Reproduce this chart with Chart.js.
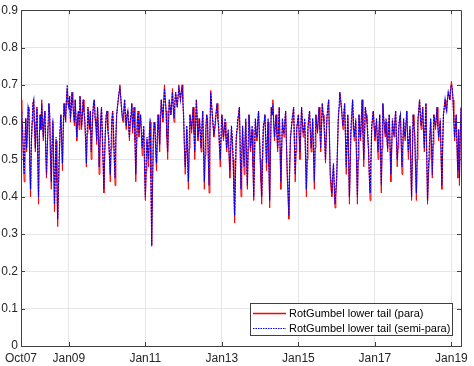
<!DOCTYPE html>
<html>
<head>
<meta charset="utf-8">
<script src="https://cdn.jsdelivr.net/npm/chart.js@4.4.1/dist/chart.umd.min.js"></script>
<style>
	html, body { margin: 0; padding: 0; background: #ffffff; }
	#wrap { width: 474px; height: 366px; }
</style>
</head>
<body>
<div id="wrap"><canvas id="tailChart" width="474" height="366"></canvas></div>
<script>
// weekly-ish observations, x is months after Oct 2007
var monthStep = 0.25;

var tickMonths = [0, 15, 39, 63, 87, 111, 135];
var tickLabels = ['Oct07', 'Jan09', 'Jan11', 'Jan13', 'Jan15', 'Jan17', 'Jan19'];

var seriesNames = ['RotGumbel lower tail (para)', 'RotGumbel lower tail (semi-para)'];

var paraTail = [
	0.66, 0.62, 0.58, 0.50, 0.44, 0.55, 0.61, 0.52, 0.57, 0.64, 0.63, 0.48, 0.40, 0.54, 0.60, 0.65, 0.66, 0.58, 0.52, 0.60,
	0.64, 0.50, 0.38, 0.56, 0.62, 0.58, 0.66, 0.60, 0.55, 0.61, 0.63, 0.52, 0.45, 0.53, 0.59, 0.65, 0.62, 0.50, 0.42, 0.54,
	0.60, 0.48, 0.36, 0.47, 0.55, 0.44, 0.32, 0.42, 0.50, 0.58, 0.62, 0.54, 0.47, 0.58, 0.65, 0.62, 0.60, 0.66, 0.69, 0.65,
	0.64, 0.67, 0.60, 0.64, 0.68, 0.65, 0.62, 0.59, 0.66, 0.60, 0.55, 0.61, 0.63, 0.58, 0.67, 0.63, 0.58, 0.62, 0.66, 0.63,
	0.60, 0.55, 0.48, 0.57, 0.64, 0.60, 0.58, 0.63, 0.50, 0.56, 0.62, 0.65, 0.66, 0.61, 0.59, 0.54, 0.64, 0.58, 0.46, 0.53,
	0.60, 0.64, 0.56, 0.49, 0.41, 0.51, 0.58, 0.62, 0.63, 0.58, 0.55, 0.50, 0.44, 0.53, 0.60, 0.63, 0.57, 0.50, 0.43, 0.55,
	0.62, 0.64, 0.66, 0.68, 0.70, 0.67, 0.64, 0.61, 0.60, 0.63, 0.66, 0.61, 0.58, 0.62, 0.63, 0.59, 0.55, 0.60, 0.62, 0.65,
	0.57, 0.61, 0.64, 0.55, 0.44, 0.53, 0.60, 0.63, 0.56, 0.59, 0.62, 0.57, 0.51, 0.55, 0.58, 0.48, 0.39, 0.47, 0.55, 0.52,
	0.48, 0.56, 0.60, 0.45, 0.267, 0.42, 0.55, 0.60, 0.58, 0.52, 0.47, 0.55, 0.62, 0.58, 0.52, 0.60, 0.66, 0.63, 0.60, 0.65,
	0.70, 0.66, 0.63, 0.56, 0.50, 0.59, 0.66, 0.64, 0.62, 0.65, 0.69, 0.64, 0.60, 0.65, 0.68, 0.66, 0.64, 0.67, 0.70, 0.68,
	0.66, 0.68, 0.70, 0.66, 0.61, 0.53, 0.46, 0.52, 0.58, 0.50, 0.42, 0.53, 0.62, 0.60, 0.57, 0.61, 0.64, 0.57, 0.50, 0.59,
	0.66, 0.61, 0.55, 0.58, 0.60, 0.56, 0.52, 0.58, 0.63, 0.53, 0.42, 0.51, 0.58, 0.62, 0.60, 0.50, 0.41, 0.56, 0.685, 0.65,
	0.62, 0.59, 0.56, 0.58, 0.60, 0.63, 0.65, 0.61, 0.58, 0.53, 0.48, 0.56, 0.62, 0.59, 0.55, 0.58, 0.60, 0.56, 0.52, 0.55,
	0.57, 0.51, 0.45, 0.52, 0.58, 0.55, 0.50, 0.42, 0.33, 0.45, 0.55, 0.58, 0.60, 0.62, 0.64, 0.52, 0.40, 0.50, 0.58, 0.52,
	0.46, 0.54, 0.60, 0.50, 0.42, 0.53, 0.62, 0.58, 0.52, 0.55, 0.58, 0.48, 0.39, 0.51, 0.60, 0.57, 0.55, 0.60, 0.63, 0.57,
	0.50, 0.44, 0.38, 0.49, 0.58, 0.60, 0.62, 0.55, 0.47, 0.54, 0.60, 0.48, 0.37, 0.52, 0.64, 0.62, 0.66, 0.60, 0.55, 0.59,
	0.62, 0.57, 0.52, 0.58, 0.64, 0.53, 0.42, 0.52, 0.60, 0.58, 0.56, 0.60, 0.63, 0.54, 0.45, 0.40, 0.34, 0.46, 0.55, 0.58,
	0.60, 0.62, 0.64, 0.54, 0.44, 0.52, 0.58, 0.60, 0.62, 0.56, 0.50, 0.57, 0.64, 0.60, 0.56, 0.58, 0.60, 0.50, 0.40, 0.50,
	0.58, 0.61, 0.63, 0.57, 0.52, 0.56, 0.60, 0.51, 0.42, 0.53, 0.62, 0.59, 0.57, 0.61, 0.64, 0.58, 0.52, 0.59, 0.65, 0.62,
	0.60, 0.55, 0.49, 0.56, 0.62, 0.64, 0.66, 0.55, 0.45, 0.42, 0.40, 0.44, 0.48, 0.42, 0.37, 0.40, 0.44, 0.52, 0.60, 0.64,
	0.68, 0.66, 0.64, 0.61, 0.58, 0.62, 0.65, 0.56, 0.46, 0.54, 0.62, 0.50, 0.38, 0.48, 0.58, 0.62, 0.66, 0.60, 0.55, 0.58,
	0.60, 0.49, 0.38, 0.50, 0.62, 0.58, 0.55, 0.61, 0.66, 0.57, 0.48, 0.56, 0.64, 0.62, 0.60, 0.56, 0.52, 0.45, 0.39, 0.49,
	0.58, 0.61, 0.63, 0.59, 0.55, 0.58, 0.60, 0.55, 0.50, 0.57, 0.62, 0.52, 0.41, 0.53, 0.65, 0.61, 0.58, 0.56, 0.60, 0.56,
	0.52, 0.58, 0.62, 0.53, 0.44, 0.52, 0.60, 0.58, 0.56, 0.60, 0.63, 0.55, 0.48, 0.53, 0.58, 0.61, 0.62, 0.54, 0.46, 0.53,
	0.60, 0.57, 0.55, 0.60, 0.63, 0.56, 0.50, 0.55, 0.58, 0.48, 0.39, 0.51, 0.62, 0.59, 0.56, 0.47, 0.39, 0.50, 0.60, 0.63,
	0.66, 0.62, 0.58, 0.61, 0.64, 0.57, 0.52, 0.59, 0.65, 0.51, 0.38, 0.44, 0.50, 0.56, 0.60, 0.53, 0.45, 0.54, 0.62, 0.60,
	0.58, 0.61, 0.64, 0.59, 0.55, 0.58, 0.60, 0.51, 0.42, 0.53, 0.62, 0.64, 0.66, 0.64, 0.63, 0.66, 0.68, 0.67, 0.66, 0.69,
	0.71, 0.69, 0.66, 0.60, 0.55, 0.59, 0.62, 0.53, 0.45, 0.58, 0.43, 0.55, 0.64
];

var semiParaTail = [
	0.66, 0.62, 0.58, 0.51, 0.46, 0.55, 0.61, 0.53, 0.58, 0.64, 0.63, 0.49, 0.42, 0.55, 0.60, 0.65, 0.66, 0.59, 0.53, 0.60,
	0.64, 0.51, 0.40, 0.56, 0.62, 0.58, 0.65, 0.60, 0.56, 0.61, 0.63, 0.53, 0.46, 0.54, 0.60, 0.65, 0.62, 0.51, 0.44, 0.55,
	0.61, 0.49, 0.38, 0.48, 0.56, 0.46, 0.34, 0.44, 0.51, 0.58, 0.62, 0.55, 0.49, 0.58, 0.65, 0.62, 0.61, 0.66, 0.70, 0.65,
	0.64, 0.67, 0.61, 0.64, 0.68, 0.65, 0.62, 0.60, 0.66, 0.61, 0.56, 0.61, 0.63, 0.59, 0.67, 0.63, 0.59, 0.62, 0.66, 0.63,
	0.61, 0.56, 0.49, 0.57, 0.64, 0.60, 0.59, 0.63, 0.52, 0.57, 0.62, 0.65, 0.66, 0.61, 0.60, 0.55, 0.64, 0.59, 0.48, 0.54,
	0.61, 0.64, 0.57, 0.50, 0.42, 0.52, 0.59, 0.62, 0.63, 0.58, 0.56, 0.51, 0.46, 0.54, 0.61, 0.63, 0.58, 0.51, 0.45, 0.56,
	0.62, 0.64, 0.66, 0.68, 0.69, 0.67, 0.64, 0.62, 0.61, 0.63, 0.66, 0.62, 0.59, 0.62, 0.63, 0.60, 0.56, 0.60, 0.62, 0.65,
	0.58, 0.61, 0.64, 0.56, 0.46, 0.54, 0.61, 0.63, 0.57, 0.59, 0.62, 0.58, 0.53, 0.56, 0.59, 0.49, 0.40, 0.48, 0.56, 0.53,
	0.50, 0.57, 0.61, 0.46, 0.27, 0.44, 0.56, 0.60, 0.59, 0.53, 0.49, 0.56, 0.62, 0.58, 0.54, 0.61, 0.66, 0.63, 0.61, 0.65,
	0.69, 0.66, 0.63, 0.57, 0.52, 0.60, 0.66, 0.64, 0.62, 0.65, 0.68, 0.64, 0.61, 0.65, 0.68, 0.66, 0.64, 0.67, 0.69, 0.68,
	0.66, 0.68, 0.69, 0.66, 0.62, 0.54, 0.48, 0.53, 0.59, 0.51, 0.44, 0.54, 0.62, 0.60, 0.58, 0.61, 0.64, 0.58, 0.52, 0.59,
	0.66, 0.61, 0.56, 0.58, 0.61, 0.57, 0.53, 0.59, 0.63, 0.54, 0.44, 0.52, 0.59, 0.62, 0.61, 0.51, 0.43, 0.57, 0.68, 0.65,
	0.62, 0.59, 0.57, 0.58, 0.61, 0.63, 0.65, 0.61, 0.59, 0.54, 0.50, 0.57, 0.62, 0.59, 0.56, 0.58, 0.61, 0.57, 0.53, 0.56,
	0.58, 0.52, 0.47, 0.53, 0.59, 0.56, 0.51, 0.44, 0.35, 0.47, 0.56, 0.58, 0.61, 0.62, 0.64, 0.53, 0.42, 0.51, 0.59, 0.53,
	0.48, 0.55, 0.61, 0.51, 0.43, 0.54, 0.62, 0.58, 0.53, 0.56, 0.59, 0.49, 0.40, 0.52, 0.61, 0.57, 0.56, 0.60, 0.63, 0.57,
	0.52, 0.46, 0.40, 0.50, 0.59, 0.60, 0.62, 0.56, 0.49, 0.55, 0.61, 0.49, 0.39, 0.53, 0.64, 0.62, 0.65, 0.60, 0.56, 0.59,
	0.62, 0.57, 0.53, 0.58, 0.64, 0.54, 0.44, 0.53, 0.61, 0.58, 0.57, 0.60, 0.63, 0.55, 0.47, 0.42, 0.35, 0.48, 0.56, 0.58,
	0.61, 0.62, 0.64, 0.55, 0.46, 0.53, 0.59, 0.60, 0.62, 0.57, 0.52, 0.58, 0.64, 0.60, 0.57, 0.58, 0.61, 0.51, 0.42, 0.51,
	0.59, 0.61, 0.63, 0.58, 0.53, 0.57, 0.61, 0.52, 0.44, 0.54, 0.62, 0.59, 0.58, 0.61, 0.64, 0.58, 0.53, 0.59, 0.65, 0.62,
	0.61, 0.56, 0.50, 0.57, 0.62, 0.64, 0.66, 0.56, 0.46, 0.44, 0.41, 0.46, 0.49, 0.44, 0.38, 0.42, 0.45, 0.53, 0.61, 0.64,
	0.68, 0.66, 0.64, 0.61, 0.59, 0.62, 0.65, 0.57, 0.48, 0.55, 0.62, 0.51, 0.40, 0.49, 0.59, 0.62, 0.66, 0.60, 0.56, 0.58,
	0.61, 0.50, 0.40, 0.51, 0.62, 0.58, 0.56, 0.61, 0.66, 0.58, 0.50, 0.57, 0.64, 0.62, 0.61, 0.57, 0.53, 0.46, 0.41, 0.50,
	0.59, 0.61, 0.63, 0.59, 0.56, 0.58, 0.61, 0.56, 0.52, 0.57, 0.62, 0.53, 0.43, 0.54, 0.65, 0.61, 0.59, 0.57, 0.61, 0.56,
	0.53, 0.58, 0.62, 0.54, 0.46, 0.53, 0.61, 0.58, 0.57, 0.60, 0.63, 0.56, 0.50, 0.54, 0.59, 0.61, 0.62, 0.55, 0.48, 0.54,
	0.61, 0.57, 0.56, 0.60, 0.63, 0.56, 0.52, 0.56, 0.59, 0.49, 0.40, 0.52, 0.62, 0.59, 0.57, 0.48, 0.41, 0.51, 0.61, 0.63,
	0.66, 0.62, 0.59, 0.61, 0.64, 0.58, 0.53, 0.59, 0.65, 0.52, 0.39, 0.46, 0.52, 0.57, 0.61, 0.54, 0.46, 0.55, 0.62, 0.60,
	0.59, 0.61, 0.64, 0.59, 0.56, 0.58, 0.61, 0.52, 0.43, 0.54, 0.62, 0.64, 0.66, 0.64, 0.63, 0.66, 0.68, 0.67, 0.66, 0.69,
	0.70, 0.69, 0.66, 0.61, 0.56, 0.59, 0.62, 0.54, 0.47, 0.58, 0.45, 0.56, 0.64
];

function toPoints(values) {
	return values.map(function (v, i) {
		return { x: i * monthStep, y: v };
	});
}

////////////////////////////////////////////////////////////////////////////////

var axisColor = '#404040';
var gridColor = '#e6e6e6';

// box round the axes plus inward tick marks, matlab style
var axesBox = {
	id: 'axesBox',
	afterDatasetsDraw: function (chart) {
		var ctx = chart.ctx;
		var a = chart.chartArea;
		var xs = chart.scales.x;
		var ys = chart.scales.y;
		ctx.save();
		ctx.strokeStyle = axisColor;
		ctx.lineWidth = 1;
		ctx.beginPath();
		ctx.rect(Math.round(a.left) + 0.5, Math.round(a.top) + 0.5,
			Math.round(a.right - a.left), Math.round(a.bottom - a.top));
		xs.ticks.forEach(function (t) {
			var px = Math.round(xs.getPixelForValue(t.value)) + 0.5;
			ctx.moveTo(px, a.bottom);
			ctx.lineTo(px, a.bottom - 4);
			ctx.moveTo(px, a.top);
			ctx.lineTo(px, a.top + 4);
		});
		ys.ticks.forEach(function (t) {
			var py = Math.round(ys.getPixelForValue(t.value)) + 0.5;
			ctx.moveTo(a.left, py);
			ctx.lineTo(a.left + 4, py);
			ctx.moveTo(a.right, py);
			ctx.lineTo(a.right - 4, py);
		});
		ctx.stroke();
		ctx.restore();
	}
};

// legend box in the lower right corner of the axes
var boxLegend = {
	id: 'boxLegend',
	afterDraw: function (chart) {
		var ctx = chart.ctx;
		var a = chart.chartArea;
		var w = 202, h = 32;
		var x0 = a.right - 9 - w;
		var y0 = a.bottom - 11 - h;
		ctx.save();
		ctx.fillStyle = '#ffffff';
		ctx.fillRect(x0, y0, w, h);
		ctx.strokeStyle = axisColor;
		ctx.lineWidth = 1;
		ctx.strokeRect(Math.round(x0) + 0.5, Math.round(y0) + 0.5, w, h);
		ctx.font = '11px "Liberation Sans", Arial, sans-serif';
		ctx.textBaseline = 'middle';
		ctx.fillStyle = '#000000';
		chart.data.datasets.forEach(function (ds, i) {
			var ly = Math.round(y0 + 10 + i * 15);
			ctx.strokeStyle = ds.borderColor;
			ctx.lineWidth = ds.borderDash ? 1.2 : 1.6;
			ctx.setLineDash(ds.borderDash ? [1.5, 1] : []);
			ctx.beginPath();
			ctx.moveTo(x0 + 3, ly + 0.5);
			ctx.lineTo(x0 + 36, ly + 0.5);
			ctx.stroke();
			ctx.setLineDash([]);
			ctx.fillText(ds.label, x0 + 39, ly + 0.5);
		});
		ctx.restore();
	}
};

var config = {
	type: 'line',
	data: {
		datasets: [{
			label: seriesNames[0],
			data: toPoints(paraTail),
			borderColor: '#ff0000',
			borderWidth: 1,
			pointRadius: 0,
			tension: 0,
			order: 2
		}, {
			label: seriesNames[1],
			data: toPoints(semiParaTail),
			borderColor: '#0000ff',
			borderWidth: 1.2,
			borderDash: [2, 1],
			pointRadius: 0,
			tension: 0,
			order: 1
		}]
	},
	options: {
		responsive: false,
		animation: false,
		layout: {
			padding: { left: 0, right: 13, top: 8, bottom: 0 }
		},
		plugins: {
			legend: { display: false },
			tooltip: { enabled: false },
			title: { display: false }
		},
		scales: {
			x: {
				type: 'linear',
				min: 0,
				max: 138,
				afterBuildTicks: function (scale) {
					scale.ticks = tickMonths.map(function (m) {
						return { value: m };
					});
				},
				afterFit: function (scale) {
					scale.height = 20;
				},
				ticks: {
					autoSkip: false,
					maxRotation: 0,
					padding: 5,
					color: '#262626',
					font: { family: '"Liberation Sans", Arial, sans-serif', size: 12 },
					callback: function (value) {
						var k = tickMonths.indexOf(value);
						return k >= 0 ? tickLabels[k] : '';
					}
				},
				grid: { color: gridColor, drawTicks: false },
				border: { display: true, color: axisColor }
			},
			y: {
				min: 0,
				max: 0.9,
				afterFit: function (scale) {
					scale.width = 21;
				},
				ticks: {
					stepSize: 0.1,
					padding: 3,
					color: '#262626',
					font: { family: '"Liberation Sans", Arial, sans-serif', size: 12 },
					callback: function (value) {
						var v = Math.round(value * 10) / 10;
						return v === 0 ? '0' : v.toFixed(1);
					}
				},
				grid: { color: gridColor, drawTicks: false },
				border: { display: true, color: axisColor }
			}
		}
	},
	plugins: [axesBox, boxLegend]
};

var tailChart = new Chart(document.getElementById('tailChart'), config);
</script>
</body>
</html>
